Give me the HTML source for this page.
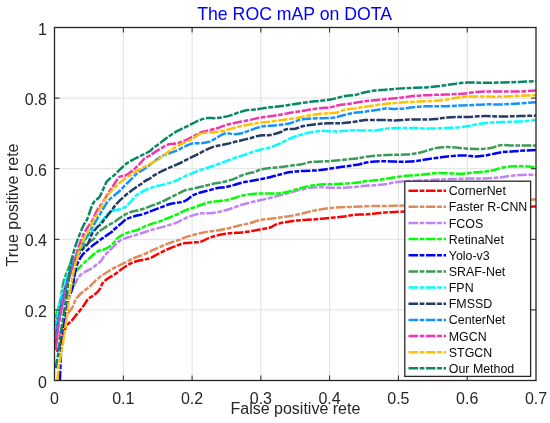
<!DOCTYPE html>
<html><head><meta charset="utf-8"><title>The ROC mAP on DOTA</title>
<style>html,body{margin:0;padding:0;background:#fff}svg{display:block}text{font-family:"Liberation Sans",sans-serif;fill:#262626}</style></head><body>
<svg width="550" height="423" viewBox="0 0 550 423">
<rect width="550" height="423" fill="#fff"/>
<path d="M123.3 27.5V380.5M192.1 27.5V380.5M260.9 27.5V380.5M329.6 27.5V380.5M398.4 27.5V380.5M467.2 27.5V380.5M54.5 309.9H536M54.5 239.3H536M54.5 168.7H536M54.5 98.1H536" stroke="#e0e0e0" stroke-width="1" fill="none"/>
<defs><clipPath id="c"><rect x="54.5" y="27.5" width="481.5" height="353.5"/></clipPath></defs>
<g clip-path="url(#c)" fill="none" stroke-width="2.5" stroke-linejoin="round" stroke-dasharray="9.5 1.6 4.8 1.6">
<path d="M57.0 352.0C57.5 350.8 59.0 347.8 60.0 345.0C61.0 342.2 62.0 338.1 63.0 335.0C64.0 331.9 64.9 328.4 66.2 326.2C67.5 323.9 69.3 323.2 70.9 321.5C72.5 319.8 74.0 317.7 75.6 315.8C77.2 313.9 78.8 312.2 80.4 310.1C82.0 308.1 83.8 305.3 85.1 303.5C86.3 301.7 86.7 300.5 87.9 299.2C89.2 297.9 91.0 297.1 92.6 295.9C94.2 294.7 96.1 293.4 97.4 292.1C98.7 290.9 99.3 289.9 100.2 288.4C101.1 286.8 101.5 284.5 102.8 282.8C104.1 281.1 106.2 279.8 108.3 278.3C110.4 276.8 113.2 275.4 115.6 273.7C118.0 272.0 120.5 270.0 122.9 268.3C125.3 266.6 127.7 264.9 130.1 263.7C132.5 262.5 135.0 261.7 137.4 261.0C139.8 260.3 142.6 260.0 144.7 259.5C146.8 259.0 147.8 259.1 150.0 258.2C152.2 257.3 155.2 255.4 158.0 254.0C160.8 252.6 163.9 250.9 167.1 249.5C170.3 248.1 174.2 246.6 177.2 245.5C180.2 244.4 182.5 243.6 185.2 243.1C187.9 242.6 190.6 242.8 193.3 242.5C196.0 242.2 198.6 242.3 201.3 241.5C204.0 240.7 206.7 238.8 209.4 237.8C212.1 236.8 214.7 236.1 217.4 235.4C220.1 234.7 222.8 234.2 225.5 233.8C228.2 233.4 230.8 233.2 233.5 233.0C236.2 232.8 238.9 232.7 241.6 232.4C244.3 232.1 246.5 231.9 249.6 231.4C252.7 230.9 256.6 230.2 260.0 229.5C263.4 228.8 267.4 228.3 270.1 227.5C272.8 226.7 273.9 225.2 276.2 224.4C278.5 223.6 281.2 223.0 284.2 222.4C287.2 221.8 290.9 221.2 294.3 220.8C297.7 220.4 301.0 220.2 304.3 220.0C307.6 219.8 311.0 219.7 314.4 219.4C317.8 219.1 321.0 218.7 324.4 218.4C327.8 218.1 331.1 217.7 334.5 217.4C337.9 217.1 341.2 216.8 344.6 216.4C348.0 216.0 351.2 215.1 354.6 214.8C358.0 214.5 361.7 214.7 365.1 214.5C368.5 214.3 371.8 213.8 375.1 213.5C378.5 213.2 381.9 212.8 385.2 212.5C388.5 212.2 391.9 212.1 395.2 211.9C398.5 211.7 395.8 211.8 404.9 211.5C414.0 211.2 434.1 210.6 450.0 210.0C465.9 209.4 486.2 208.6 500.0 208.0C513.8 207.4 527.0 206.8 533.0 206.6C539.0 206.3 535.5 206.5 536.0 206.5" stroke="#ff0000"/>
<path d="M55.0 346.0C55.5 344.7 56.8 341.0 58.0 338.0C59.2 335.0 60.8 331.0 62.0 328.0C63.2 325.0 63.9 322.5 65.0 320.0C66.1 317.5 67.4 315.0 68.5 313.0C69.6 311.0 70.9 309.6 71.8 308.2C72.7 306.8 73.1 305.9 73.7 304.5C74.3 303.1 74.5 301.2 75.6 299.5C76.7 297.8 78.8 295.6 80.4 294.0C82.0 292.4 83.5 291.4 85.1 290.2C86.7 288.9 88.4 287.8 89.8 286.5C91.2 285.2 92.3 284.0 93.6 282.7C94.9 281.4 96.2 280.0 97.4 278.9C98.7 277.8 99.9 277.0 101.1 276.1C102.3 275.2 102.8 274.9 104.6 273.7C106.4 272.5 109.5 270.6 111.9 269.2C114.3 267.8 116.8 266.7 119.2 265.5C121.6 264.3 124.1 263.1 126.5 261.9C128.9 260.7 131.4 259.3 133.8 258.2C136.2 257.1 138.4 256.6 141.1 255.5C143.8 254.4 148.0 252.4 150.0 251.5C152.0 250.6 151.2 250.8 153.0 250.0C154.8 249.2 158.4 247.7 161.1 246.5C163.8 245.3 166.4 244.1 169.1 243.1C171.8 242.1 174.5 241.4 177.2 240.5C179.9 239.6 182.5 238.3 185.2 237.4C187.9 236.5 190.6 235.7 193.3 235.0C196.0 234.3 198.6 233.6 201.3 233.0C204.0 232.4 206.7 231.8 209.4 231.4C212.1 231.0 214.7 230.8 217.4 230.4C220.1 230.0 222.8 229.6 225.5 229.0C228.2 228.4 230.8 227.7 233.5 227.0C236.2 226.3 238.9 225.6 241.6 225.0C244.3 224.4 246.5 224.1 249.6 223.3C252.7 222.5 256.6 220.8 260.0 220.0C263.4 219.2 266.7 219.2 270.1 218.8C273.5 218.4 276.9 217.9 280.2 217.4C283.5 216.9 286.8 216.6 290.2 216.0C293.6 215.4 296.9 214.8 300.3 214.0C303.7 213.2 307.0 212.2 310.4 211.4C313.8 210.6 317.0 210.0 320.4 209.4C323.8 208.8 327.1 208.2 330.5 207.9C333.9 207.6 337.1 207.5 340.5 207.3C343.9 207.1 347.4 207.0 350.6 206.9C353.9 206.8 355.9 206.7 360.0 206.5C364.1 206.3 370.8 206.1 375.0 206.0C379.2 205.9 381.8 206.0 385.2 206.0C388.6 206.0 391.9 205.9 395.2 205.8C398.5 205.7 395.8 205.8 404.9 205.4C414.0 205.0 434.1 204.2 450.0 203.5C465.9 202.8 486.2 201.7 500.0 201.0C513.8 200.3 527.0 199.8 533.0 199.5C539.0 199.2 535.5 199.4 536.0 199.4" stroke="#de8a5a"/>
<path d="M55.5 335.0C55.8 333.0 56.7 327.0 57.5 323.0C58.3 319.0 59.4 314.7 60.5 311.0C61.6 307.3 62.8 304.0 64.0 301.0C65.2 298.0 66.6 295.2 68.0 293.0C69.4 290.8 71.2 289.4 72.3 288.0C73.4 286.6 73.8 286.1 74.7 284.6C75.6 283.1 76.4 280.6 77.5 278.9C78.6 277.2 79.9 275.5 81.3 274.2C82.7 272.9 84.3 272.2 86.0 271.3C87.7 270.4 90.0 269.6 91.7 268.5C93.4 267.4 94.8 266.0 96.4 264.7C98.0 263.4 99.7 262.4 101.1 260.9C102.5 259.4 103.1 257.3 104.6 255.5C106.1 253.7 108.3 251.8 110.1 250.0C111.9 248.2 113.8 246.3 115.6 244.6C117.4 242.9 118.9 241.2 121.0 240.0C123.1 238.8 125.9 238.1 128.3 237.3C130.7 236.5 133.2 235.9 135.6 235.1C138.0 234.3 140.5 233.5 142.9 232.7C145.3 231.9 148.3 231.1 150.0 230.5C151.7 229.9 151.2 229.9 153.0 229.4C154.8 228.9 158.4 228.1 161.1 227.4C163.8 226.7 166.4 225.8 169.1 225.0C171.8 224.2 174.5 223.4 177.2 222.3C179.9 221.2 182.5 219.5 185.2 218.3C187.9 217.1 190.6 216.1 193.3 215.3C196.0 214.5 198.6 213.6 201.3 213.3C204.0 213.0 206.7 213.5 209.4 213.3C212.1 213.1 214.7 212.8 217.4 212.3C220.1 211.8 222.8 211.1 225.5 210.3C228.2 209.5 230.8 208.6 233.5 207.7C236.2 206.8 238.9 205.6 241.6 204.8C244.3 204.0 246.5 203.4 249.6 202.7C252.7 201.9 256.6 201.1 260.0 200.3C263.4 199.5 266.7 198.7 270.1 197.9C273.5 197.1 276.9 196.2 280.2 195.3C283.5 194.4 286.8 193.6 290.2 192.7C293.6 191.8 296.9 190.6 300.3 189.8C303.7 189.0 307.0 188.2 310.4 187.8C313.8 187.4 317.0 187.2 320.4 187.2C323.8 187.2 327.1 187.7 330.5 187.8C333.9 187.9 337.1 187.9 340.5 187.8C343.9 187.7 347.4 187.4 350.6 187.2C353.9 186.9 357.6 186.6 360.0 186.3C362.4 186.1 362.6 185.9 365.1 185.7C367.6 185.5 371.8 185.5 375.1 185.3C378.5 185.1 381.9 184.8 385.2 184.3C388.5 183.8 391.8 182.8 395.2 182.3C398.6 181.8 401.2 181.6 405.3 181.3C409.4 181.0 415.0 180.8 420.0 180.5C425.0 180.2 431.2 179.9 435.5 179.7C439.8 179.5 442.1 179.4 445.5 179.3C448.9 179.2 452.0 179.0 455.6 178.9C459.2 178.8 463.9 178.7 467.3 178.6C470.7 178.5 473.0 178.4 475.9 178.4C478.8 178.4 481.6 178.5 484.5 178.4C487.4 178.3 490.3 178.2 493.2 178.0C496.1 177.8 498.9 177.6 501.8 177.2C504.7 176.8 507.5 176.2 510.4 175.8C513.3 175.5 514.8 175.3 519.1 175.1C523.4 174.9 533.2 174.7 536.0 174.6" stroke="#c084f5"/>
<path d="M55.6 336.0C55.6 333.0 55.4 322.8 55.9 318.0C56.4 313.2 57.3 310.2 58.5 307.0C59.7 303.8 61.4 301.2 63.0 299.0C64.6 296.8 66.5 295.5 68.0 294.0C69.5 292.5 70.8 292.4 71.8 290.2C72.8 288.0 73.1 283.8 73.7 280.8C74.3 277.8 74.6 274.5 75.6 272.3C76.5 270.1 78.0 269.2 79.4 267.6C80.8 266.0 82.7 264.2 84.1 262.8C85.5 261.4 86.3 260.9 87.9 259.5C89.5 258.1 91.7 255.8 93.6 254.3C95.5 252.8 97.8 251.2 99.3 250.5C100.8 249.8 101.3 250.5 102.8 250.0C104.3 249.5 106.5 248.5 108.3 247.3C110.1 246.1 112.3 244.3 113.8 242.8C115.3 241.3 115.9 239.6 117.4 238.2C118.9 236.8 120.8 235.7 122.9 234.6C125.0 233.5 127.7 232.6 130.1 231.8C132.5 231.0 134.9 230.9 137.4 230.0C139.9 229.1 142.4 227.5 145.0 226.4C147.6 225.3 150.3 224.3 153.0 223.4C155.7 222.5 158.4 221.9 161.1 220.9C163.8 219.9 166.4 218.8 169.1 217.7C171.8 216.6 174.5 215.5 177.2 214.3C179.9 213.1 182.5 211.4 185.2 210.3C187.9 209.2 190.6 208.6 193.3 207.7C196.0 206.8 198.6 205.7 201.3 204.8C204.0 203.9 206.7 202.8 209.4 202.2C212.1 201.6 214.7 201.5 217.4 201.2C220.1 200.9 222.8 200.7 225.5 200.2C228.2 199.7 230.8 199.0 233.5 198.2C236.2 197.4 238.9 196.3 241.6 195.6C244.3 194.9 246.5 194.5 249.6 194.2C252.7 193.8 256.6 193.6 260.0 193.5C263.4 193.4 266.7 193.5 270.1 193.5C273.5 193.5 276.9 193.7 280.2 193.3C283.5 192.9 286.8 192.0 290.2 191.2C293.6 190.3 296.9 189.1 300.3 188.2C303.7 187.3 307.0 186.4 310.4 185.8C313.8 185.2 317.0 184.9 320.4 184.6C323.8 184.3 327.1 184.3 330.5 184.2C333.9 184.1 337.1 184.0 340.5 183.8C343.9 183.6 347.4 183.5 350.6 183.2C353.9 182.9 357.6 182.5 360.0 182.2C362.4 181.9 362.6 181.6 365.1 181.3C367.6 181.0 371.8 180.7 375.1 180.3C378.5 179.9 381.9 179.4 385.2 178.9C388.5 178.4 391.8 177.8 395.2 177.3C398.6 176.8 401.9 176.2 405.3 175.8C408.7 175.5 412.0 175.5 415.4 175.2C418.8 174.9 422.0 174.5 425.4 174.2C428.8 173.9 432.1 173.4 435.5 173.2C438.9 173.0 441.6 173.1 445.5 173.2C449.4 173.3 455.0 173.7 458.6 173.7C462.2 173.7 464.4 173.4 467.3 173.2C470.2 173.0 473.0 172.6 475.9 172.3C478.8 172.0 481.6 171.9 484.5 171.6C487.4 171.3 490.3 171.0 493.2 170.3C496.1 169.7 498.9 168.3 501.8 167.7C504.7 167.1 507.5 166.7 510.4 166.5C513.3 166.3 516.2 166.3 519.1 166.3C522.0 166.3 524.9 166.3 527.7 166.5C530.5 166.7 534.6 167.5 536.0 167.7" stroke="#00ff00"/>
<path d="M59.9 380.4C60.0 377.8 60.3 369.1 60.5 365.0C60.7 360.9 60.6 359.7 60.9 355.5C61.1 351.3 61.5 345.1 62.0 340.0C62.5 334.9 63.2 330.0 64.0 325.0C64.8 320.0 65.7 314.5 66.5 310.0C67.3 305.5 68.0 301.6 69.0 298.0C70.0 294.4 71.3 292.4 72.3 288.4C73.2 284.4 73.8 278.3 74.7 274.2C75.6 270.1 76.2 266.7 77.5 263.5C78.8 260.3 80.5 257.5 82.2 255.2C83.9 252.9 86.0 251.3 87.9 249.6C89.8 247.9 91.7 246.3 93.6 244.8C95.5 243.3 97.6 241.8 99.3 240.6C101.0 239.3 102.7 238.2 103.9 237.3C105.1 236.5 105.2 236.4 106.5 235.5C107.8 234.6 110.6 232.8 111.9 231.8C113.2 230.8 112.9 230.6 114.3 229.3C115.7 228.1 118.3 226.0 120.3 224.3C122.3 222.6 124.0 220.6 126.3 219.3C128.6 218.0 131.6 217.1 134.3 216.3C137.0 215.5 139.8 215.1 142.4 214.3C145.0 213.5 148.2 212.2 150.0 211.5C151.8 210.8 151.2 211.0 153.0 210.3C154.8 209.6 158.4 208.3 161.1 207.3C163.8 206.3 166.4 204.9 169.1 204.2C171.8 203.4 174.5 203.4 177.2 202.8C179.9 202.2 182.5 202.1 185.2 200.8C187.9 199.5 190.6 196.6 193.3 195.2C196.0 193.8 198.6 193.0 201.3 192.2C204.0 191.4 206.7 190.9 209.4 190.2C212.1 189.5 214.7 188.6 217.4 188.1C220.1 187.6 222.8 187.6 225.5 187.1C228.2 186.6 230.8 185.8 233.5 185.1C236.2 184.4 238.9 183.3 241.6 182.7C244.3 182.0 246.5 181.8 249.6 181.2C252.7 180.6 256.6 179.9 260.0 179.2C263.4 178.5 266.7 178.0 270.1 177.2C273.5 176.4 276.9 175.3 280.2 174.5C283.5 173.7 286.8 172.7 290.2 172.1C293.6 171.5 296.9 171.3 300.3 171.1C303.7 170.9 307.0 170.9 310.4 170.7C313.8 170.5 317.0 170.5 320.4 170.1C323.8 169.7 327.1 169.0 330.5 168.5C333.9 168.0 337.1 167.6 340.5 167.1C343.9 166.6 347.4 166.2 350.6 165.7C353.9 165.2 357.6 164.7 360.0 164.2C362.4 163.7 362.6 163.2 365.1 162.8C367.6 162.4 371.8 161.9 375.1 161.6C378.5 161.3 381.9 161.2 385.2 161.2C388.5 161.2 391.8 161.5 395.2 161.6C398.6 161.7 401.9 161.9 405.3 161.8C408.7 161.7 412.0 161.6 415.4 161.2C418.8 160.8 422.0 160.0 425.4 159.5C428.8 159.0 432.1 158.6 435.5 158.1C438.9 157.6 441.6 157.1 445.5 156.7C449.4 156.3 455.0 155.8 458.6 155.6C462.2 155.4 464.4 155.4 467.3 155.6C470.2 155.8 473.0 156.5 475.9 156.5C478.8 156.5 481.6 156.0 484.5 155.6C487.4 155.2 490.3 154.5 493.2 153.9C496.1 153.3 498.9 152.5 501.8 152.1C504.7 151.7 507.5 151.8 510.4 151.6C513.3 151.4 514.8 151.2 519.1 150.9C523.4 150.7 533.2 150.2 536.0 150.1" stroke="#0000ff"/>
<path d="M55.5 340.0C55.7 337.5 56.0 330.0 56.5 325.0C57.0 320.0 57.8 314.7 58.5 310.0C59.2 305.3 60.2 301.5 61.0 297.0C61.8 292.5 62.4 287.0 63.3 283.0C64.2 279.0 65.4 276.0 66.5 273.0C67.6 270.0 68.8 267.5 70.0 265.0C71.2 262.5 72.5 260.3 74.0 258.0C75.5 255.7 77.2 253.2 79.0 251.0C80.8 248.8 83.2 246.6 85.0 245.0C86.8 243.4 88.6 242.5 90.0 241.5C91.4 240.5 92.5 240.4 93.6 239.2C94.7 238.0 95.3 235.9 96.4 234.5C97.5 233.1 99.0 231.7 100.2 230.7C101.5 229.7 102.6 229.2 103.9 228.3C105.2 227.4 106.3 226.5 108.2 225.3C110.1 224.1 113.0 222.8 115.3 221.3C117.6 219.8 119.8 217.8 122.3 216.3C124.8 214.8 127.6 213.2 130.3 212.2C133.0 211.2 136.0 210.8 138.4 210.2C140.8 209.5 142.6 209.1 145.0 208.3C147.4 207.5 150.3 206.2 153.0 205.2C155.7 204.2 158.4 203.4 161.1 202.2C163.8 201.0 166.4 199.5 169.1 198.2C171.8 196.9 174.5 195.5 177.2 194.2C179.9 192.9 182.5 191.1 185.2 190.2C187.9 189.3 190.6 189.3 193.3 188.7C196.0 188.1 198.6 187.4 201.3 186.7C204.0 186.0 206.7 185.3 209.4 184.7C212.1 184.1 214.7 183.6 217.4 183.1C220.1 182.6 222.8 182.2 225.5 181.5C228.2 180.8 230.8 180.1 233.5 179.1C236.2 178.1 238.9 176.5 241.6 175.5C244.3 174.5 247.4 173.6 249.6 173.0C251.8 172.4 253.3 172.6 255.0 172.0C256.7 171.4 257.5 170.3 260.0 169.7C262.5 169.0 266.7 168.5 270.1 168.1C273.5 167.7 276.9 167.5 280.2 167.1C283.5 166.7 286.8 166.1 290.2 165.7C293.6 165.3 296.9 165.1 300.3 164.5C303.7 163.9 307.0 162.6 310.4 162.1C313.8 161.6 317.0 161.7 320.4 161.5C323.8 161.3 327.1 161.3 330.5 161.1C333.9 160.9 337.1 160.4 340.5 160.1C343.9 159.8 347.4 159.4 350.6 159.1C353.9 158.8 357.6 158.4 360.0 158.0C362.4 157.6 362.6 157.1 365.1 156.7C367.6 156.3 371.8 156.0 375.1 155.7C378.5 155.4 381.9 155.3 385.2 155.1C388.5 154.9 391.8 154.8 395.2 154.7C398.6 154.6 401.9 154.7 405.3 154.5C408.7 154.3 412.0 154.1 415.4 153.5C418.8 152.9 422.0 152.0 425.4 151.1C428.8 150.2 432.1 148.8 435.5 148.1C438.9 147.4 442.1 147.2 445.5 147.1C448.9 147.0 452.0 147.2 455.6 147.5C459.2 147.8 463.9 148.4 467.3 148.7C470.7 148.9 473.0 149.0 475.9 149.0C478.8 149.0 481.6 148.9 484.5 148.7C487.4 148.4 490.6 148.1 493.2 147.5C495.8 146.9 497.2 145.5 500.1 145.2C503.0 144.8 507.2 145.3 510.4 145.4C513.6 145.5 514.8 145.6 519.1 145.6C523.4 145.6 533.2 145.6 536.0 145.6" stroke="#3c9a58"/>
<path d="M55.5 335.0C55.8 332.5 56.3 325.0 57.0 320.0C57.7 315.0 58.8 309.0 59.5 305.0C60.2 301.0 60.7 299.3 61.5 296.0C62.3 292.7 63.4 288.7 64.5 285.0C65.6 281.3 66.8 277.3 68.0 274.0C69.2 270.7 70.3 267.7 71.5 265.0C72.7 262.3 73.8 260.4 75.0 258.0C76.2 255.6 77.5 253.3 79.0 250.5C80.5 247.7 82.6 243.4 84.1 241.0C85.6 238.6 86.7 237.6 88.0 236.0C89.3 234.4 90.5 233.1 92.0 231.5C93.5 229.9 95.4 228.5 97.3 226.5C99.2 224.5 101.4 221.5 103.2 219.3C105.0 217.1 106.4 214.8 108.2 213.3C110.0 211.8 112.3 210.9 114.3 210.2C116.3 209.5 118.3 209.9 120.3 209.2C122.3 208.5 124.6 207.4 126.3 206.2C128.0 205.0 128.6 204.0 130.3 202.2C132.0 200.4 134.3 196.9 136.3 195.2C138.3 193.4 141.0 192.5 142.4 191.7C143.8 190.9 143.2 191.0 145.0 190.2C146.8 189.4 150.3 187.9 153.0 187.1C155.7 186.2 158.4 185.8 161.1 185.1C163.8 184.4 166.4 183.9 169.1 183.1C171.8 182.3 174.5 181.3 177.2 180.1C179.9 178.9 182.5 177.3 185.2 176.1C187.9 174.9 190.6 173.9 193.3 172.8C196.0 171.7 198.6 170.6 201.3 169.7C204.0 168.8 206.7 168.1 209.4 167.2C212.1 166.3 214.7 165.4 217.4 164.4C220.1 163.4 222.8 162.4 225.5 161.4C228.2 160.4 230.8 159.3 233.5 158.4C236.2 157.5 238.9 156.7 241.6 155.8C244.3 154.9 246.5 154.0 249.6 153.0C252.7 152.0 256.6 150.7 260.0 149.8C263.4 148.9 266.7 148.5 270.1 147.4C273.5 146.3 276.9 144.9 280.2 143.4C283.5 141.9 286.8 139.8 290.2 138.4C293.6 137.0 296.9 136.0 300.3 135.0C303.7 134.0 307.0 133.0 310.4 132.3C313.8 131.6 317.0 131.1 320.4 130.9C323.8 130.7 327.1 131.2 330.5 131.3C333.9 131.4 337.1 131.5 340.5 131.3C343.9 131.1 347.4 130.5 350.6 130.3C353.9 130.2 355.9 130.4 360.0 130.4C364.1 130.4 370.9 130.7 375.1 130.4C379.3 130.1 381.9 129.2 385.2 128.8C388.5 128.4 391.8 128.1 395.2 128.0C398.6 127.9 401.9 128.0 405.3 128.0C408.7 128.0 412.0 127.9 415.4 128.0C418.8 128.1 422.0 128.3 425.4 128.4C428.8 128.5 432.1 128.5 435.5 128.4C438.9 128.3 441.6 128.2 445.5 128.0C449.4 127.8 455.0 127.7 458.6 127.4C462.2 127.1 464.4 126.7 467.3 126.2C470.2 125.7 473.0 125.0 475.9 124.5C478.8 124.0 481.6 123.7 484.5 123.3C487.4 122.9 490.3 122.5 493.2 122.3C496.1 122.1 497.5 122.2 501.8 122.1C506.1 122.0 513.4 121.8 519.1 121.5C524.8 121.2 533.2 120.3 536.0 120.1" stroke="#00ffff"/>
<path d="M55.5 345.0C55.8 342.5 56.3 335.0 57.0 330.0C57.7 325.0 58.7 319.7 59.5 315.0C60.3 310.3 61.1 306.2 62.0 302.0C62.9 297.8 64.0 293.8 65.0 290.0C66.0 286.2 67.0 282.3 68.0 279.0C69.0 275.7 70.0 272.8 71.0 270.0C72.0 267.2 73.1 264.6 74.0 262.5C74.9 260.4 75.1 259.4 76.6 257.1C78.1 254.8 81.3 250.8 83.2 248.6C85.1 246.4 86.8 245.5 87.9 243.9C89.0 242.3 89.0 241.0 89.8 239.2C90.6 237.4 91.3 234.9 92.5 233.0C93.7 231.1 95.6 229.0 97.0 227.5C98.4 226.0 99.8 225.3 101.0 224.0C102.2 222.7 102.7 221.8 104.2 219.8C105.7 217.8 108.2 214.8 110.2 212.2C112.2 209.6 114.3 206.5 116.3 204.2C118.3 201.9 120.1 200.2 122.3 198.2C124.5 196.2 127.0 194.0 129.3 192.2C131.6 190.3 134.1 188.6 136.3 187.1C138.5 185.6 141.0 184.1 142.4 183.1C143.8 182.1 143.7 181.8 145.0 181.0C146.3 180.2 148.7 179.3 150.0 178.5C151.3 177.7 151.2 177.2 153.0 176.0C154.8 174.8 158.4 172.9 161.1 171.5C163.8 170.1 166.4 169.0 169.1 167.8C171.8 166.6 174.5 165.6 177.2 164.4C179.9 163.2 182.5 161.7 185.2 160.4C187.9 159.1 190.6 157.8 193.3 156.4C196.0 155.1 198.6 153.7 201.3 152.3C204.0 151.0 207.1 149.3 209.4 148.3C211.8 147.3 212.7 147.0 215.4 146.3C218.1 145.6 222.5 145.0 225.5 144.3C228.5 143.6 230.8 143.0 233.5 142.3C236.2 141.6 238.9 141.0 241.6 140.3C244.3 139.6 246.5 139.1 249.6 138.3C252.7 137.5 256.6 136.0 260.0 135.4C263.4 134.8 266.7 135.5 270.1 135.0C273.5 134.5 277.5 133.2 280.2 132.3C282.9 131.4 283.8 129.9 286.2 129.3C288.6 128.7 291.6 129.4 294.3 128.9C297.0 128.4 299.6 127.0 302.3 126.3C305.0 125.6 307.4 125.3 310.4 124.9C313.4 124.5 317.0 124.0 320.4 123.7C323.8 123.4 327.1 123.4 330.5 123.3C333.9 123.2 337.1 123.5 340.5 123.3C343.9 123.1 347.4 122.7 350.6 122.3C353.9 121.9 357.6 121.2 360.0 120.8C362.4 120.4 362.6 120.1 365.1 120.0C367.6 119.9 371.8 120.0 375.1 120.0C378.5 120.0 381.9 119.9 385.2 120.0C388.5 120.1 391.8 120.4 395.2 120.4C398.6 120.4 401.9 120.0 405.3 119.8C408.7 119.6 412.0 119.4 415.4 119.4C418.8 119.4 422.0 119.7 425.4 119.6C428.8 119.5 432.1 119.3 435.5 119.0C438.9 118.7 442.1 118.0 445.5 117.7C448.9 117.4 452.0 117.1 455.6 117.0C459.2 116.9 462.5 117.2 467.3 117.0C472.1 116.8 478.8 116.2 484.5 116.1C490.2 116.0 496.0 116.5 501.8 116.5C507.6 116.5 513.4 116.2 519.1 116.1C524.8 115.9 533.2 115.7 536.0 115.6" stroke="#253a66"/>
<path d="M55.5 340.0C55.8 337.5 56.8 330.0 57.5 325.0C58.2 320.0 59.1 314.7 60.0 310.0C60.9 305.3 62.0 301.0 63.0 297.0C64.0 293.0 65.0 289.5 66.0 286.0C67.0 282.5 68.0 279.2 69.0 276.0C70.0 272.8 71.0 269.8 72.0 267.0C73.0 264.2 73.9 262.0 75.0 259.5C76.1 257.0 77.3 254.4 78.5 252.0C79.7 249.6 80.8 247.3 82.0 245.0C83.2 242.7 84.6 240.3 86.0 238.0C87.4 235.7 88.7 233.6 90.2 231.0C91.7 228.4 93.4 225.4 95.2 222.3C97.0 219.2 99.2 215.5 101.2 212.2C103.2 208.8 105.2 204.9 107.2 202.2C109.2 199.5 111.3 198.0 113.3 196.2C115.3 194.4 117.3 193.0 119.3 191.2C121.3 189.3 123.5 186.9 125.3 185.1C127.1 183.2 128.5 181.9 130.3 180.1C132.1 178.3 134.3 175.8 136.3 174.1C138.3 172.4 141.0 171.0 142.4 170.1C143.8 169.2 143.2 169.7 145.0 168.4C146.8 167.1 150.3 164.4 153.0 162.4C155.7 160.4 158.4 157.9 161.1 156.4C163.8 154.9 166.4 154.4 169.1 153.4C171.8 152.4 174.5 151.5 177.2 150.3C179.9 149.1 182.5 147.5 185.2 146.3C187.9 145.1 190.6 143.8 193.3 143.3C196.0 142.8 198.6 143.6 201.3 143.3C204.0 143.0 206.7 142.7 209.4 141.7C212.1 140.7 214.7 138.7 217.4 137.3C220.1 135.9 222.8 133.7 225.5 133.2C228.2 132.7 230.8 134.2 233.5 134.2C236.2 134.2 238.9 133.8 241.6 133.2C244.3 132.6 246.5 131.6 249.6 130.5C252.7 129.4 256.6 127.7 260.0 126.9C263.4 126.1 266.7 126.0 270.1 125.7C273.5 125.4 276.9 125.3 280.2 124.9C283.5 124.5 286.8 124.2 290.2 123.3C293.6 122.4 296.8 120.6 300.3 119.8C303.8 119.0 307.1 118.9 311.0 118.6C314.9 118.3 319.8 118.4 323.7 118.2C327.6 118.0 331.7 118.0 334.5 117.6C337.3 117.2 338.1 116.6 340.5 116.0C342.9 115.4 346.2 114.5 348.6 114.0C351.0 113.5 351.9 113.2 354.6 112.8C357.4 112.4 361.7 112.1 365.1 111.7C368.5 111.3 371.8 110.7 375.1 110.2C378.5 109.7 381.9 108.8 385.2 108.6C388.5 108.4 391.8 109.0 395.2 108.9C398.6 108.9 401.9 108.6 405.3 108.3C408.7 108.0 412.0 107.2 415.4 106.9C418.8 106.6 422.0 106.4 425.4 106.3C428.8 106.2 432.1 106.3 435.5 106.3C438.9 106.3 441.6 106.4 445.5 106.3C449.4 106.2 455.0 105.8 458.6 105.6C462.2 105.4 463.0 105.5 467.3 105.3C471.6 105.1 478.8 104.6 484.5 104.4C490.2 104.2 496.0 104.6 501.8 104.4C507.6 104.2 513.4 103.9 519.1 103.5C524.8 103.1 533.2 102.4 536.0 102.2" stroke="#1492ff"/>
<path d="M55.9 350.0C56.1 348.0 56.5 342.5 57.0 338.0C57.5 333.5 58.2 327.8 59.0 323.0C59.8 318.2 60.7 313.0 61.5 309.0C62.3 305.0 63.0 302.5 63.8 299.0C64.6 295.5 65.5 291.7 66.5 288.0C67.5 284.3 68.5 280.5 69.5 277.0C70.5 273.5 71.7 269.4 72.5 267.0C73.3 264.6 73.4 265.6 74.2 262.8C75.0 260.1 76.5 254.0 77.5 250.5C78.5 247.0 79.3 244.8 80.4 242.0C81.5 239.2 82.7 236.1 84.0 233.4C85.3 230.7 87.3 227.8 88.5 226.0C89.7 224.2 89.8 225.1 91.2 222.5C92.7 219.9 95.4 213.4 97.2 210.2C99.0 207.0 100.4 206.0 102.2 203.2C104.0 200.4 106.2 196.4 108.2 193.2C110.2 190.0 112.5 186.8 114.3 184.1C116.1 181.4 117.3 178.6 119.3 177.1C121.3 175.6 123.8 176.4 126.3 175.1C128.8 173.8 132.0 171.1 134.3 169.1C136.7 167.1 138.7 164.9 140.4 163.1C142.1 161.3 142.8 159.8 144.4 158.5C146.0 157.2 148.6 156.3 150.0 155.5C151.4 154.7 151.2 154.6 153.0 153.4C154.8 152.2 158.4 149.8 161.1 148.3C163.8 146.8 166.4 145.1 169.1 144.3C171.8 143.5 174.5 144.0 177.2 143.3C179.9 142.6 182.5 141.5 185.2 140.3C187.9 139.1 190.6 137.5 193.3 136.2C196.0 134.8 198.6 133.2 201.3 132.2C204.0 131.2 206.7 130.9 209.4 130.2C212.1 129.5 214.7 129.0 217.4 128.2C220.1 127.4 222.8 126.0 225.5 125.2C228.2 124.4 230.8 123.8 233.5 123.2C236.2 122.6 238.9 122.1 241.6 121.6C244.3 121.1 246.5 120.7 249.6 120.0C252.7 119.3 256.6 118.3 260.0 117.7C263.4 117.1 266.7 116.7 270.1 116.2C273.5 115.7 276.9 115.4 280.2 114.8C283.5 114.2 286.8 113.4 290.2 112.8C293.6 112.2 296.9 111.7 300.3 111.2C303.7 110.7 307.0 110.1 310.4 109.6C313.8 109.1 317.0 108.6 320.4 108.2C323.8 107.8 327.5 107.7 330.5 107.2C333.5 106.7 335.8 105.7 338.5 105.2C341.2 104.7 343.9 104.6 346.6 104.2C349.4 103.8 351.9 103.2 355.0 102.7C358.1 102.2 361.8 101.6 365.1 101.2C368.5 100.8 371.8 100.5 375.1 100.2C378.5 99.9 381.9 99.5 385.2 99.2C388.5 98.9 391.8 98.5 395.2 98.2C398.6 97.9 401.9 97.6 405.3 97.2C408.7 96.8 412.0 96.1 415.4 95.8C418.8 95.5 422.0 95.4 425.4 95.2C428.8 95.0 432.1 94.9 435.5 94.8C438.9 94.7 441.6 94.7 445.5 94.6C449.4 94.5 455.0 94.2 458.6 94.0C462.2 93.8 464.4 93.5 467.3 93.2C470.2 92.9 473.0 92.3 475.9 92.0C478.8 91.7 480.2 91.6 484.5 91.5C488.8 91.4 496.0 91.5 501.8 91.5C507.6 91.5 513.4 91.7 519.1 91.5C524.8 91.3 533.2 90.8 536.0 90.6" stroke="#f035b2"/>
<path d="M57.4 380.4C57.7 377.8 58.3 369.8 59.0 365.0C59.7 360.2 60.6 357.4 61.6 351.7C62.6 346.0 63.9 337.1 64.8 331.0C65.7 324.9 66.3 320.2 67.0 315.0C67.7 309.8 68.2 305.5 69.0 299.7C69.8 293.9 71.0 285.8 72.0 280.0C73.0 274.2 74.3 268.8 75.2 265.0C76.1 261.2 76.5 260.5 77.5 257.1C78.5 253.7 80.0 248.3 81.3 244.8C82.6 241.3 83.9 238.6 85.1 236.3C86.3 234.0 87.2 233.5 88.5 231.0C89.8 228.5 91.4 224.8 93.2 221.3C95.0 217.8 97.2 213.9 99.2 210.2C101.2 206.5 103.2 202.4 105.2 199.2C107.2 196.0 109.2 193.5 111.2 191.2C113.2 188.8 115.3 186.9 117.3 185.1C119.3 183.2 121.1 181.8 123.3 180.1C125.5 178.4 127.8 176.8 130.3 175.1C132.8 173.4 136.0 171.5 138.4 170.1C140.8 168.7 142.6 167.7 145.0 166.4C147.4 165.1 150.3 163.9 153.0 162.4C155.7 160.9 158.4 159.2 161.1 157.4C163.8 155.6 166.4 153.2 169.1 151.3C171.8 149.5 174.5 147.8 177.2 146.3C179.9 144.8 182.5 143.6 185.2 142.3C187.9 141.0 191.0 139.7 193.3 138.3C195.7 137.0 197.3 135.1 199.3 134.2C201.3 133.3 203.1 133.1 205.4 132.8C207.8 132.5 210.7 132.5 213.4 132.2C216.1 131.9 218.8 131.7 221.5 131.2C224.2 130.7 226.8 129.9 229.5 129.2C232.2 128.5 234.9 127.5 237.6 126.8C240.3 126.1 242.7 125.8 245.6 125.2C248.5 124.7 252.6 123.9 255.0 123.5C257.4 123.1 257.5 123.2 260.0 122.9C262.5 122.6 266.7 122.1 270.1 121.7C273.5 121.3 276.9 120.8 280.2 120.3C283.5 119.8 286.8 119.4 290.2 118.9C293.6 118.4 296.9 117.9 300.3 117.3C303.7 116.7 307.0 115.8 310.4 115.2C313.8 114.6 317.0 114.1 320.4 113.8C323.8 113.5 327.5 113.5 330.5 113.2C333.5 112.9 336.1 112.8 338.5 112.2C340.9 111.6 342.2 110.2 344.6 109.6C347.0 109.0 350.0 109.1 352.6 108.8C355.2 108.5 357.9 107.8 360.0 107.5C362.1 107.2 362.6 107.1 365.1 106.7C367.6 106.3 371.8 105.8 375.1 105.3C378.5 104.8 381.9 104.3 385.2 103.9C388.5 103.5 391.8 103.2 395.2 102.9C398.6 102.6 401.9 102.5 405.3 102.3C408.7 102.1 412.0 101.8 415.4 101.6C418.8 101.4 422.0 101.3 425.4 101.2C428.8 101.1 432.1 101.0 435.5 100.8C438.9 100.6 442.1 100.3 445.5 99.8C448.9 99.3 452.0 98.5 455.6 98.0C459.2 97.5 462.5 96.8 467.3 96.6C472.1 96.4 478.8 96.6 484.5 96.6C490.2 96.6 496.0 96.7 501.8 96.6C507.6 96.5 513.4 96.0 519.1 95.8C524.8 95.6 533.2 95.3 536.0 95.2" stroke="#ffc000"/>
<path d="M55.8 368.3C56.0 366.9 56.6 362.6 57.0 360.0C57.4 357.4 57.9 356.3 58.4 353.0C58.9 349.7 59.4 344.7 60.0 340.0C60.6 335.3 61.3 329.7 62.0 325.0C62.7 320.3 63.3 316.2 64.0 312.0C64.7 307.8 65.3 304.5 66.0 300.0C66.7 295.5 67.3 290.8 68.0 285.0C68.7 279.2 69.7 269.6 70.4 265.0C71.1 260.4 71.5 260.2 72.3 257.1C73.1 254.1 74.3 249.5 75.2 246.7C76.1 243.9 76.6 242.4 77.5 240.1C78.4 237.8 79.4 235.1 80.4 232.6C81.4 230.1 82.6 227.2 83.7 225.0C84.8 222.8 85.5 222.9 87.1 219.3C88.7 215.7 91.2 206.9 93.2 203.2C95.2 199.5 97.5 199.5 99.2 197.2C100.9 194.9 101.9 191.9 103.2 189.2C104.5 186.5 105.4 183.4 107.2 181.1C109.0 178.8 112.1 177.1 114.3 175.1C116.5 173.1 118.1 171.1 120.3 169.1C122.5 167.1 125.0 164.8 127.3 163.1C129.6 161.4 131.8 160.3 134.3 159.0C136.8 157.7 139.8 156.3 142.4 155.0C145.0 153.7 148.2 152.1 150.0 151.0C151.8 149.9 151.2 149.8 153.0 148.3C154.8 146.9 158.4 144.3 161.1 142.3C163.8 140.3 166.4 138.0 169.1 136.2C171.8 134.3 174.5 132.7 177.2 131.2C179.9 129.7 182.5 128.5 185.2 127.2C187.9 125.9 191.0 124.4 193.3 123.2C195.7 122.0 197.0 121.1 199.3 120.2C201.7 119.3 204.7 118.4 207.4 118.1C210.1 117.8 212.7 118.3 215.4 118.1C218.1 117.9 220.8 117.6 223.5 117.1C226.2 116.6 228.8 115.9 231.5 115.1C234.2 114.3 236.9 112.9 239.6 112.1C242.3 111.3 245.0 110.5 247.6 110.1C250.2 109.7 252.9 109.7 255.0 109.5C257.1 109.3 257.5 109.2 260.0 108.8C262.5 108.4 266.7 107.6 270.1 107.2C273.5 106.8 276.9 106.6 280.2 106.2C283.5 105.8 286.8 105.3 290.2 104.8C293.6 104.3 296.9 103.7 300.3 103.2C303.7 102.7 307.0 102.2 310.4 101.8C313.8 101.4 317.0 101.2 320.4 100.8C323.8 100.4 327.5 100.0 330.5 99.5C333.5 99.0 335.8 98.1 338.5 97.5C341.2 96.9 343.9 96.1 346.6 95.7C349.4 95.3 351.9 95.6 355.0 95.0C358.1 94.4 361.8 92.9 365.1 92.2C368.5 91.5 371.8 91.0 375.1 90.6C378.5 90.2 381.9 90.1 385.2 89.8C388.5 89.5 391.8 89.1 395.2 88.8C398.6 88.5 401.9 88.4 405.3 88.2C408.7 88.0 412.0 87.9 415.4 87.8C418.8 87.7 422.0 87.6 425.4 87.4C428.8 87.2 432.1 87.0 435.5 86.6C438.9 86.2 442.1 85.7 445.5 85.2C448.9 84.7 452.0 84.2 455.6 83.8C459.2 83.3 462.5 82.7 467.3 82.5C472.1 82.3 478.8 82.8 484.5 82.8C490.2 82.8 496.0 82.6 501.8 82.5C507.6 82.4 513.4 82.2 519.1 82.0C524.8 81.8 533.2 81.2 536.0 81.1" stroke="#078764"/>
</g>
<rect x="54.5" y="27.5" width="481.5" height="353.0" fill="none" stroke="#262626" stroke-width="1.3"/>
<path d="M123.3 380.5v-5M123.3 27.5v5M192.1 380.5v-5M192.1 27.5v5M260.9 380.5v-5M260.9 27.5v5M329.6 380.5v-5M329.6 27.5v5M398.4 380.5v-5M398.4 27.5v5M467.2 380.5v-5M467.2 27.5v5M54.5 309.9h5M536 309.9h-5M54.5 239.3h5M536 239.3h-5M54.5 168.7h5M536 168.7h-5M54.5 98.1h5M536 98.1h-5" stroke="#262626" stroke-width="1" fill="none"/>
<text x="54.5" y="404.2" font-size="16" text-anchor="middle">0</text>
<text x="123.3" y="404.2" font-size="16" text-anchor="middle">0.1</text>
<text x="192.1" y="404.2" font-size="16" text-anchor="middle">0.2</text>
<text x="260.9" y="404.2" font-size="16" text-anchor="middle">0.3</text>
<text x="329.6" y="404.2" font-size="16" text-anchor="middle">0.4</text>
<text x="398.4" y="404.2" font-size="16" text-anchor="middle">0.5</text>
<text x="467.2" y="404.2" font-size="16" text-anchor="middle">0.6</text>
<text x="536.0" y="404.2" font-size="16" text-anchor="middle">0.7</text>
<text x="47" y="387.5" font-size="16" text-anchor="end">0</text>
<text x="47" y="316.9" font-size="16" text-anchor="end">0.2</text>
<text x="47" y="246.3" font-size="16" text-anchor="end">0.4</text>
<text x="47" y="175.7" font-size="16" text-anchor="end">0.6</text>
<text x="47" y="105.1" font-size="16" text-anchor="end">0.8</text>
<text x="47" y="34.5" font-size="16" text-anchor="end">1</text>
<text x="295.4" y="413.6" font-size="16" text-anchor="middle">False positive rete</text>
<text transform="translate(17.8 205) rotate(-90)" font-size="16" text-anchor="middle">True positive rete</text>
<text x="294.7" y="19.8" font-size="17.7" text-anchor="middle" style="fill:#0000ff">The ROC mAP on DOTA</text>
<rect x="404.8" y="181.2" width="125.80000000000001" height="195.2" fill="#fff" stroke="#262626" stroke-width="1.3"/>
<path d="M408.5 190.7H446" stroke="#ff0000" stroke-width="2.5" stroke-dasharray="9.5 1.6 4.8 1.6" fill="none"/>
<text x="448.8" y="195.2" font-size="12.4" style="fill:#0a0a0a">CornerNet</text>
<path d="M408.5 206.8H446" stroke="#de8a5a" stroke-width="2.5" stroke-dasharray="9.5 1.6 4.8 1.6" fill="none"/>
<text x="448.8" y="211.3" font-size="12.4" style="fill:#0a0a0a">Faster R-CNN</text>
<path d="M408.5 223.0H446" stroke="#c084f5" stroke-width="2.5" stroke-dasharray="9.5 1.6 4.8 1.6" fill="none"/>
<text x="448.8" y="227.5" font-size="12.4" style="fill:#0a0a0a">FCOS</text>
<path d="M408.5 239.1H446" stroke="#00ff00" stroke-width="2.5" stroke-dasharray="9.5 1.6 4.8 1.6" fill="none"/>
<text x="448.8" y="243.6" font-size="12.4" style="fill:#0a0a0a">RetinaNet</text>
<path d="M408.5 255.3H446" stroke="#0000ff" stroke-width="2.5" stroke-dasharray="9.5 1.6 4.8 1.6" fill="none"/>
<text x="448.8" y="259.8" font-size="12.4" style="fill:#0a0a0a">Yolo-v3</text>
<path d="M408.5 271.4H446" stroke="#3c9a58" stroke-width="2.5" stroke-dasharray="9.5 1.6 4.8 1.6" fill="none"/>
<text x="448.8" y="275.9" font-size="12.4" style="fill:#0a0a0a">SRAF-Net</text>
<path d="M408.5 287.6H446" stroke="#00ffff" stroke-width="2.5" stroke-dasharray="9.5 1.6 4.8 1.6" fill="none"/>
<text x="448.8" y="292.1" font-size="12.4" style="fill:#0a0a0a">FPN</text>
<path d="M408.5 303.8H446" stroke="#253a66" stroke-width="2.5" stroke-dasharray="9.5 1.6 4.8 1.6" fill="none"/>
<text x="448.8" y="308.2" font-size="12.4" style="fill:#0a0a0a">FMSSD</text>
<path d="M408.5 319.9H446" stroke="#1492ff" stroke-width="2.5" stroke-dasharray="9.5 1.6 4.8 1.6" fill="none"/>
<text x="448.8" y="324.4" font-size="12.4" style="fill:#0a0a0a">CenterNet</text>
<path d="M408.5 336.0H446" stroke="#f035b2" stroke-width="2.5" stroke-dasharray="9.5 1.6 4.8 1.6" fill="none"/>
<text x="448.8" y="340.5" font-size="12.4" style="fill:#0a0a0a">MGCN</text>
<path d="M408.5 352.2H446" stroke="#ffc000" stroke-width="2.5" stroke-dasharray="9.5 1.6 4.8 1.6" fill="none"/>
<text x="448.8" y="356.7" font-size="12.4" style="fill:#0a0a0a">STGCN</text>
<path d="M408.5 368.3H446" stroke="#078764" stroke-width="2.5" stroke-dasharray="9.5 1.6 4.8 1.6" fill="none"/>
<text x="448.8" y="372.8" font-size="12.4" style="fill:#0a0a0a">Our Method</text>
</svg></body></html>
